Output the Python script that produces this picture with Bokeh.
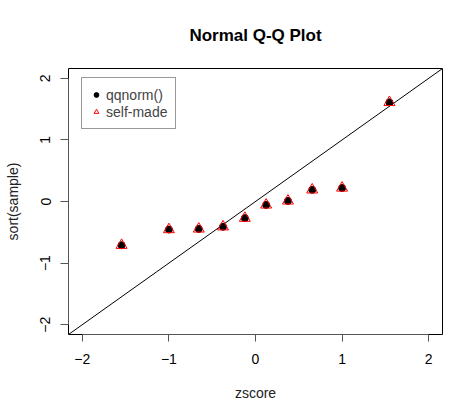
from bokeh.plotting import figure
from bokeh.models import FixedTicker, Legend, LegendItem, Range1d
from bokeh.embed import file_html
from bokeh.resources import INLINE

# theoretical quantiles (zscore) and sorted sample values
zscore = [-1.547, -1.000, -0.655, -0.375, -0.123, 0.123, 0.375, 0.655, 1.000, 1.547]
sample_sorted = [-0.71, -0.455, -0.445, -0.41, -0.27, -0.055, 0.01, 0.19, 0.22, 1.61]
ref_line = [-2.16, 2.16]
ticks = [-2, -1, 0, 1, 2]

FONT = "Liberation Sans"

p = figure(width=466, height=407, output_backend="svg", toolbar_location=None,
           x_range=Range1d(-2.16, 2.16), y_range=Range1d(-2.16, 2.16),
           title="Normal Q-Q Plot",
           min_border_left=68, min_border_right=24, min_border_top=68, min_border_bottom=73)

p.background_fill_color = "white"
p.border_fill_color = "white"
p.outline_line_color = "black"
p.outline_line_width = 1
p.grid.visible = False

p.title.align = "center"
p.title.vertical_align = "middle"
p.title.standoff = 46
p.title.text_font = FONT
p.title.text_font_size = "17px"
p.title.text_font_style = "bold"
p.title.text_color = "black"

for ax in (p.xaxis, p.yaxis):
    ax.ticker = FixedTicker(ticks=ticks)
    ax.bounds = (-2, 2)
    ax.minor_tick_line_color = None
    ax.major_tick_in = 0
    ax.major_tick_line_color = "#555555"
    ax.axis_line_color = "#555555"
    ax.major_label_text_font = FONT
    ax.major_label_text_font_size = "14px"
    ax.major_label_text_color = "black"
    ax.axis_label_text_font = FONT
    ax.axis_label_text_font_size = "14px"
    ax.axis_label_text_font_style = "normal"
    ax.axis_label_text_color = "#222222"

p.xaxis.axis_label = "zscore"
p.xaxis.major_tick_out = 7
p.xaxis.major_label_standoff = 12
p.xaxis.axis_label_standoff = 18
p.yaxis.axis_label = "sort(sample)"
p.yaxis.major_tick_out = 8
p.yaxis.major_label_orientation = "vertical"
p.yaxis.major_label_standoff = 10
p.yaxis.axis_label_standoff = 17

p.line(ref_line, ref_line, line_color="black", line_width=1)

circ = p.scatter(zscore, sample_sorted, marker="circle", size=7,
                 fill_color="black", line_color="black")
tri = p.scatter(zscore, sample_sorted, marker="triangle", size=11,
                fill_color=None, line_color="red", line_width=1)

legend = Legend(items=[LegendItem(label="qqnorm()", renderers=[circ]),
                       LegendItem(label="self-made", renderers=[tri])],
                location=(13, 205))
legend.border_line_color = "#333333"
legend.label_text_font = FONT
legend.label_text_font_size = "14px"
legend.label_height = 17
legend.glyph_height = 17
legend.glyph_width = 12
legend.spacing = 0
legend.padding = 8
legend.margin = 0
legend.label_standoff = 4
p.add_layout(legend)

open("out.html", "w").write(file_html(p, INLINE))
